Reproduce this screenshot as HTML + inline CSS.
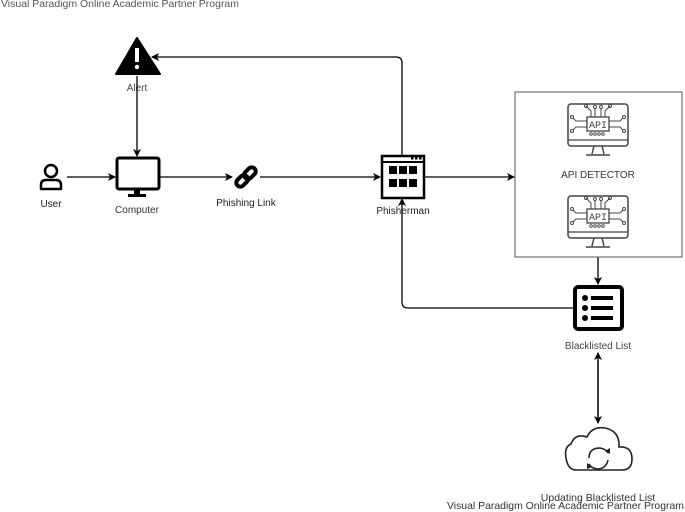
<!DOCTYPE html>
<html><head><style>
body{margin:0;background:#fff;}
svg{display:block;font-family:"Liberation Sans",sans-serif;}
</style></head><body>
<svg width="685" height="512" viewBox="0 0 685 512">
<defs>
<marker id="a" markerWidth="8" markerHeight="8" refX="7" refY="4" orient="auto" markerUnits="userSpaceOnUse"><path d="M0,0 L8,4 L0,8 L2,4Z" fill="#000"/></marker>
<g id="api">
 <rect x="0" y="0" width="60" height="42" rx="3" fill="none" stroke="#444" stroke-width="1.5"/>
 <line x1="0" y1="36" x2="60" y2="36" stroke="#444" stroke-width="1.3"/>
 <path d="M26,42 L24,50 M34,42 L36,50 M18,51 H42" stroke="#444" stroke-width="1.5" fill="none"/>
 <rect x="19" y="13" width="22" height="14" fill="none" stroke="#444" stroke-width="1.3"/>
 <text x="30" y="24" font-size="10" text-anchor="middle" fill="#444" font-family="Liberation Mono,monospace">API</text>
 <path d="M23,13 V7 L18,2 M27,13 V4 M33,13 V4 M37,13 V7 L42,2 M19,17 H8 L5,14 M19,23 H8 L5,26 M41,17 H52 L55,14 M41,23 H52 L55,26" stroke="#444" stroke-width="1" fill="none"/>
 <g fill="none" stroke="#444" stroke-width="0.9"><circle cx="18" cy="2" r="1.5"/><circle cx="27" cy="3" r="1.5"/><circle cx="33" cy="3" r="1.5"/><circle cx="42" cy="2" r="1.5"/><circle cx="4" cy="13" r="1.5"/><circle cx="4" cy="27" r="1.5"/><circle cx="56" cy="13" r="1.5"/><circle cx="56" cy="27" r="1.5"/><circle cx="23" cy="30" r="1.3"/><circle cx="27" cy="30" r="1.3"/><circle cx="31" cy="30" r="1.3"/><circle cx="35" cy="30" r="1.3"/></g>
</g>
</defs>
<text x="1" y="7" font-size="10.5" fill="#555" textLength="238" lengthAdjust="spacingAndGlyphs">Visual Paradigm Online Academic Partner Program</text>

<!-- Alert -->
<path d="M137,38 L160,74 L116,74 Z" fill="#000" stroke="#000" stroke-width="2" stroke-linejoin="round"/>
<rect x="135" y="48" width="4" height="14" fill="#fff"/><circle cx="137" cy="67" r="2.2" fill="#fff"/>
<text x="137" y="91" font-size="10" fill="#444" text-anchor="middle">Alert</text>

<!-- connectors -->
<path d="M402,155 V63 Q402,57 396,57 H152" fill="none" stroke="#000" stroke-width="1.3" marker-end="url(#a)"/>
<path d="M137,76 V156" stroke="#000" stroke-width="1.3" marker-end="url(#a)"/>
<path d="M67,177 H115" stroke="#000" stroke-width="1.3" marker-end="url(#a)"/>
<path d="M160,177 H232" stroke="#000" stroke-width="1.3" marker-end="url(#a)"/>
<path d="M260,177 H380" stroke="#000" stroke-width="1.3" marker-end="url(#a)"/>
<path d="M425,177 H514" stroke="#000" stroke-width="1.3" marker-end="url(#a)"/>
<path d="M598,257 V284" stroke="#000" stroke-width="1.3" marker-end="url(#a)"/>
<path d="M573,308 H408 Q402,308 402,302 V199" fill="none" stroke="#000" stroke-width="1.3" marker-end="url(#a)"/>
<path d="M598,422 V353" stroke="#000" stroke-width="1.3" marker-end="url(#a)"/>
<path d="M598,360 V423" stroke="#000" stroke-width="1.3" marker-end="url(#a)"/>

<!-- User -->
<circle cx="51" cy="171" r="6" fill="none" stroke="#000" stroke-width="2.5"/>
<path d="M41,189 V185 Q41,180 46,180 H56 Q61,180 61,185 V189 Z" fill="none" stroke="#000" stroke-width="2.5" stroke-linejoin="round"/>
<text x="51" y="207" font-size="10" fill="#222" text-anchor="middle">User</text>

<!-- Computer -->
<rect x="117" y="158" width="42" height="31" rx="2" fill="#fff" stroke="#000" stroke-width="3"/>
<path d="M134,189 V194 H128 V197 H146 V194 H140 V189Z" fill="#000"/>
<text x="137" y="213" font-size="10" fill="#333" text-anchor="middle">Computer</text>

<!-- link -->
<g transform="translate(246,177) rotate(-45)" fill="none" stroke="#000" stroke-width="4">
 <rect x="-12" y="-4" width="13" height="8" rx="4"/><rect x="-1" y="-4" width="13" height="8" rx="4"/>
</g>
<text x="246" y="206" font-size="10" fill="#222" text-anchor="middle">Phishing Link</text>

<!-- Phisherman -->
<rect x="382" y="156" width="42" height="42" fill="#fff" stroke="#000" stroke-width="2.5"/>
<line x1="382" y1="162" x2="424" y2="162" stroke="#000" stroke-width="2"/>
<g fill="#000"><rect x="411" y="157" width="2.5" height="2.5"/><rect x="415" y="157" width="2.5" height="2.5"/><rect x="419" y="157" width="2.5" height="2.5"/>
<rect x="389" y="166" width="8" height="8"/><rect x="399" y="166" width="8" height="8"/><rect x="409" y="166" width="8" height="8"/>
<rect x="389" y="179" width="8" height="8"/><rect x="399" y="179" width="8" height="8"/><rect x="409" y="179" width="8" height="8"/></g>
<text x="403" y="214" font-size="10" fill="#222" text-anchor="middle">Phisherman</text>

<!-- API box -->
<rect x="515" y="92" width="167" height="165" fill="none" stroke="#555" stroke-width="1"/>
<use href="#api" x="568" y="104"/>
<use href="#api" x="568" y="196"/>
<text x="598" y="178" font-size="10" fill="#333" text-anchor="middle">API DETECTOR</text>

<!-- Blacklisted -->
<rect x="575" y="287" width="47" height="42" rx="3" fill="#fff" stroke="#000" stroke-width="4"/>
<g fill="#000"><circle cx="585" cy="298" r="3"/><circle cx="585" cy="308" r="3"/><circle cx="585" cy="318" r="3"/>
<rect x="591" y="296" width="22" height="4"/><rect x="591" y="306" width="22" height="4"/><rect x="591" y="316" width="22" height="4"/></g>
<text x="598" y="349" font-size="10" fill="#444" text-anchor="middle">Blacklisted List</text>

<!-- Cloud -->
<path d="M576,470 H622 Q632,470 632,459 Q632,446 619,447 Q620,431 605,428 Q592,426 587,437 Q575,433 571,444 Q564,447 566,458 Q568,470 576,470Z" fill="none" stroke="#222" stroke-width="1.6"/>
<path d="M589,458 Q589,448 600,448 Q606,449 608,453 M608,460 Q606,469 597,469 Q591,468 589,464" fill="none" stroke="#222" stroke-width="1.6"/>
<path d="M605,451 L610,454 L610,448Z M592,467 L587,463 L587,469Z" fill="#222"/>
<text x="598" y="501" font-size="10.5" fill="#333" text-anchor="middle">Updating Blacklisted List</text>
<text x="447" y="509" font-size="10.5" fill="#333" textLength="237" lengthAdjust="spacingAndGlyphs">Visual Paradigm Online Academic Partner Program</text>
</svg>
</body></html>
